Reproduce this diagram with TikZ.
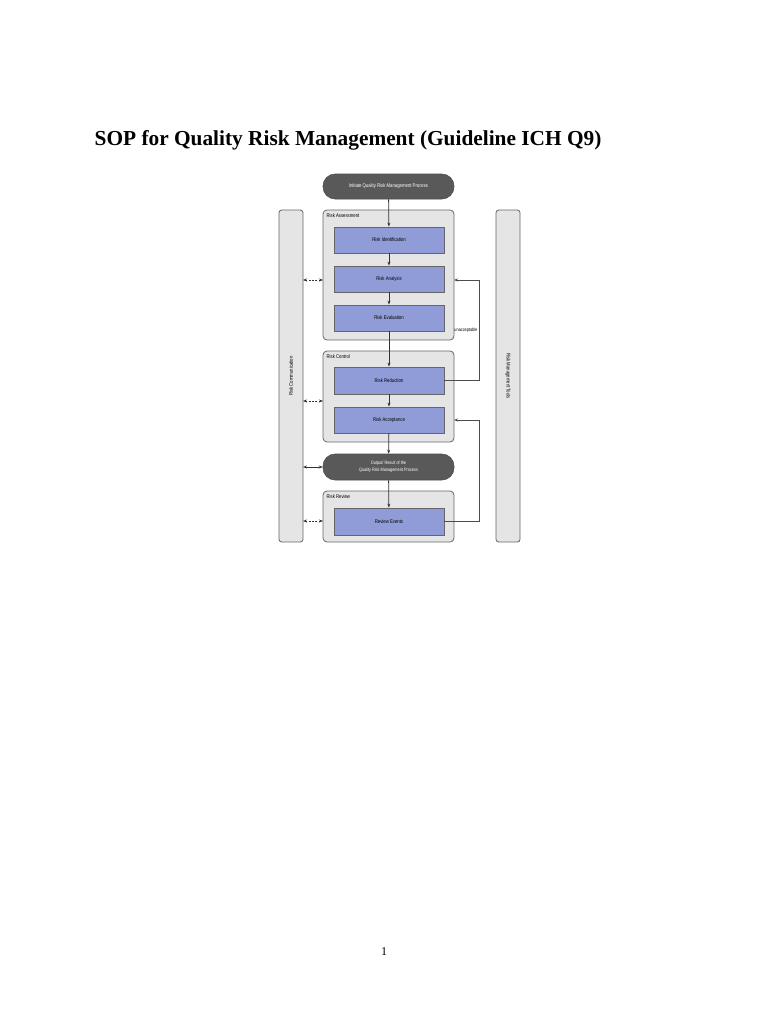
\documentclass[tikz,border=0pt]{standalone}
\usepackage{fontspec}
\setmainfont{Liberation Serif}
\newfontfamily\cond[Scale=0.8,FakeStretch=0.8]{Liberation Sans}
\usetikzlibrary{arrows.meta}
\begin{document}
\begin{tikzpicture}[x=0.75pt,y=-0.75pt,
  grp/.style={draw=black!60,fill=black!10,rounded corners=3pt,line width=0.6pt},
  stepbox/.style={draw=black!60,fill=cyan!30!blue!45!white,line width=0.6pt,font=\cond\tiny},
  pill/.style={draw=black!70,fill=black!65,rounded corners=9pt,text=white,font=\cond\tiny,align=center},
  bar/.style={draw=black!60,fill=black!10,rounded corners=2pt,line width=0.6pt},
  arr/.style={-{Stealth[length=3pt]},black!80,line width=0.6pt},
  darr/.style={{Stealth[length=3pt]}-{Stealth[length=3pt]},black!80,line width=0.5pt}]
\useasboundingbox (0,0) rectangle (768,1024);
\node[anchor=base west,font=\bfseries\fontsize{16}{19}\selectfont] (title) at (90,145) {SOP for Quality Risk Management (Guideline ICH Q9)};
% bars
\draw[bar] (279,210) rectangle (303,542);
\node[rotate=90,font=\cond\tiny] (rc) at (291,376) {Risk Communication};
\draw[bar] (496,210) rectangle (520,542);
\node[rotate=-90,font=\cond\tiny] (rt) at (508,376) {Risk Management Tools};
% groups
\draw[grp] (323,210) rectangle (454,340);
\node[anchor=north west,font=\cond\tiny,inner sep=1pt] at (325,212) {Risk Assessment};
\draw[grp] (323,351) rectangle (454,442);
\node[anchor=north west,font=\cond\tiny,inner sep=1pt] at (325,353) {Risk Control};
\draw[grp] (323,491) rectangle (454,542);
\node[anchor=north west,font=\cond\tiny,inner sep=1pt] at (325,493) {Risk Review};
\coordinate (ga) at (454,280);
\coordinate (gc) at (454,420);
\coordinate (la) at (323,280);
\coordinate (lc) at (323,401);
\coordinate (lr) at (323,521);
\coordinate (ba) at (303,280);
\coordinate (bc) at (303,401);
\coordinate (bo) at (303,467);
\coordinate (br) at (303,521);
% nodes
\node[pill,minimum width=131*0.75pt,minimum height=25*0.75pt] (init) at (388.5,186.5) {Initiate Quality Risk Management Process};
\node[stepbox,minimum width=110*0.75pt,minimum height=26*0.75pt] (id) at (389,240) {Risk Identification};
\node[stepbox,minimum width=110*0.75pt,minimum height=26*0.75pt] (an) at (389,279) {Risk Analysis};
\node[stepbox,minimum width=110*0.75pt,minimum height=26*0.75pt] (ev) at (389,318) {Risk Evaluation};
\node[stepbox,minimum width=110*0.75pt,minimum height=27*0.75pt] (red) at (389,380.5) {Risk Reduction};
\node[stepbox,minimum width=110*0.75pt,minimum height=26*0.75pt] (acc) at (389,420) {Risk Acceptance};
\node[pill,minimum width=131*0.75pt,minimum height=26*0.75pt,inner sep=1pt,font=\cond\fontsize{4.5}{5}\selectfont] (out) at (388.5,467) {Output/ Result of the\\Quality Risk Management Process};
\node[stepbox,minimum width=110*0.75pt,minimum height=27*0.75pt] (rev) at (389,521.5) {Review Events};
% arrows
\draw[arr] (init) -- (id);
\draw[arr] (id) -- (an);
\draw[arr] (an) -- (ev);
\draw[arr] (ev) -- (red);
\draw[arr] (red) -- (acc);
\draw[arr] (acc) -- (out);
\draw[arr] (out) -- (rev);
\draw[arr,black!70,line width=0.5pt] (red.east) -| (479,280) node[pos=0.75,left,font=\cond\fontsize{4.5}{5}\selectfont,inner sep=1pt,text=black] {unacceptable} -- (ga);
\draw[arr,black!70,line width=0.5pt] (rev.east) -| (479,420) -- (gc);
\draw[darr,dashed,dash pattern=on 1.5pt off 1pt] (ba) -- (la);
\draw[darr,dashed,dash pattern=on 1.5pt off 1pt] (bc) -- (lc);
\draw[darr,dashed,dash pattern=on 1.5pt off 1pt] (br) -- (lr);
\draw[darr] (bo) -- (out.west);
\node[font=\fontsize{9}{10}\selectfont] (pg) at (384,952) {1};
\end{tikzpicture}
\end{document}
